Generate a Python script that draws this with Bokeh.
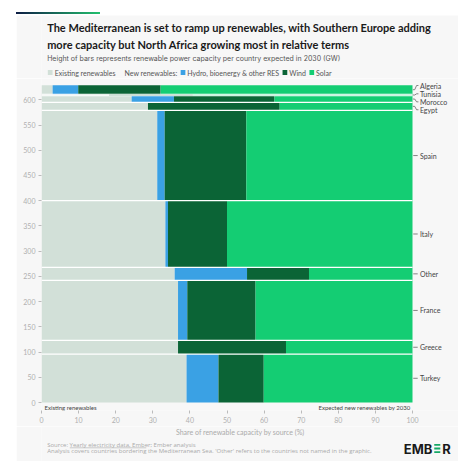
from bokeh.plotting import figure
from bokeh.models import Range1d, FixedTicker, ColumnDataSource, Div
from bokeh.layouts import column
from bokeh.embed import file_html
from bokeh.resources import INLINE
from bokeh.core.properties import value

# ---------------- data (bottom to top) ----------------
countries = ["Turkey", "Greece", "France", "Other", "Italy", "Spain", "Egypt", "Morocco", "Tunisia", "Algeria"]
capacity_gw = [96, 27, 119, 26, 132, 179, 16, 13, 3, 18]
existing_pct = [39.1, 36.8, 36.8, 35.9, 33.4, 31.2, 28.7, 24.3, 18.2, 3.0]
hydro_pct = [8.6, 0.0, 2.5, 19.5, 0.7, 2.0, 0.0, 11.4, 0.0, 6.9]
wind_pct = [12.2, 29.1, 18.4, 16.7, 15.9, 22.0, 35.5, 27.1, 22.6, 22.2]
solar_pct = [40.1, 34.1, 42.3, 27.9, 50.0, 44.8, 35.8, 37.2, 59.2, 67.9]
y_ticks = [0, 50, 100, 150, 200, 250, 300, 350, 400, 450, 500, 550, 600]
x_ticks = [0, 10, 20, 30, 40, 50, 60, 70, 80, 90, 100]
legend_labels = ["Existing renewables", "Hydro, bioenergy & other RES", "Wind", "Solar"]

# ---------------- style ----------------
C_EXIST = "#d2e0d8"
C_HYDRO = "#3aa1e4"
C_WIND = "#0b6436"
C_SOLAR = "#14cd73"
BG = "#f7f7f7"
FONT = "Lato"
label_dy_px = [0, 0, 0, 0, 0, 0, 3.4, 2.8, -1.2, -4.2]   # label nudges (screen px, + = down)
W = 442
X0, X1 = 16, 458   # page x-extent of the panel


def panel(top, bottom):
    """A full-bleed figure whose coordinates are page pixels (for header / footer text)."""
    f = figure(width=W, height=bottom - top, output_backend="svg", toolbar_location=None,
               x_range=Range1d(X0, X1), y_range=Range1d(bottom, top),
               x_axis_location=None, y_axis_location=None,
               min_border=0, min_border_left=0, min_border_right=0,
               min_border_top=0, min_border_bottom=0)
    f.background_fill_color = BG
    f.border_fill_color = BG
    f.outline_line_color = None
    f.grid.grid_line_color = None
    return f


def txt(f, x, y, s, size, color, bold=False, align="left", font=FONT):
    f.text(x=[x], y=[y], text=[s], text_font=value(font), text_font_size=size,
           text_color=color, text_font_style="bold" if bold else "normal",
           text_align=align, text_baseline="middle")


# ---------------- header ----------------
hd = panel(15, 78)
txt(hd, 22, 27, "The Mediterranean is set to ramp up renewables, with Southern Europe adding",
    "11px", "#1a1a1a", bold=True)
txt(hd, 22, 43.5, "more capacity but North Africa growing most in relative terms",
    "11px", "#1a1a1a", bold=True)
txt(hd, 22, 58, "Height of bars represents renewable power capacity per country expected in 2030 (GW)",
    "7px", "#555555", font="Inter")
sw_x = [22.7, 163.5, 271.5, 300.0]
sw_c = [C_EXIST, C_HYDRO, C_WIND, C_SOLAR]
hd.quad(left=sw_x, right=[v + 5 for v in sw_x], top=[69.5] * 4, bottom=[74.5] * 4,
        fill_color=sw_c, line_color=None)
for x, s in zip([30, 170.5, 278.5, 307], legend_labels):
    txt(hd, x, 72, s, "7px", "#555555")
txt(hd, 104, 72, "New renewables:", "7px", "#555555")

# ---------------- chart ----------------
PXX = 3.71     # px per percentage point
PXY = 0.5045   # px per GW
p = figure(width=W, height=348, output_backend="svg", toolbar_location=None,
           x_range=Range1d(0, 417 / PXX), y_range=Range1d(-8 / PXY, -8 / PXY + 332 / PXY),
           min_border_left=25, min_border_right=0, min_border_top=0, min_border_bottom=16)
p.background_fill_color = BG
p.border_fill_color = BG
p.outline_line_color = None
p.grid.grid_line_color = None

bottoms, tops = [], []
acc = 0
for c in capacity_gw:
    bottoms.append(acc)
    acc += c
    tops.append(acc)

segs = [existing_pct, hydro_pct, wind_pct, solar_pct]
left = [0.0] * len(countries)
for vals, col in zip(segs, sw_c):
    right = [l + v for l, v in zip(left, vals)]
    src = ColumnDataSource(dict(left=left, right=right, bottom=bottoms, top=tops))
    p.quad(left="left", right="right", bottom="bottom", top="top", source=src,
           fill_color=col, line_color=None)
    left = right

p.segment(x0=[0] * (len(tops) - 1), x1=[100] * (len(tops) - 1), y0=tops[:-1], y1=tops[:-1],
          line_color="white", line_width=1.2)

centers = [(b + t) / 2 for b, t in zip(bottoms, tops)]
label_y = [c - d / PXY for c, d in zip(centers, label_dy_px)]
xs, ys = [], []
for c, ly in zip(centers, label_y):
    if abs(c - ly) < 0.5:
        xs.append([100.2, 101.4]); ys.append([ly, ly])
    else:
        xs.append([100.1, 100.6, 101.1, 101.6]); ys.append([c, c, ly, ly])
p.multi_line(xs=xs, ys=ys, line_color="#666666", line_width=0.8)
p.text(x=[102.0] * len(countries), y=label_y, text=countries, text_baseline="middle",
       text_align="left", text_font=value(FONT), text_font_size="7px", text_color="#444444")

p.text(x=[3 / PXX], y=[-5 / PXY], text=["Existing renewables"], text_baseline="middle",
       text_font=value(FONT), text_font_size="6px", text_color="#444444")
p.text(x=[100 - 2 / PXX], y=[-5 / PXY], text=["Expected new renewables by 2030"], text_baseline="middle",
       text_align="right", text_font=value(FONT), text_font_size="6px", text_color="#444444")

for ax, tk in ((p.xaxis, x_ticks), (p.yaxis, y_ticks)):
    ax.ticker = FixedTicker(ticks=tk)
    ax.axis_line_color = None
    ax.major_tick_in = 0
    ax.major_tick_out = 3
    ax.major_tick_line_color = "#bbbbbb"
    ax.minor_tick_line_color = None
    ax.major_label_text_color = "#b0b0b0"
    ax.major_label_text_font = FONT
    ax.major_label_text_font_size = "7px"
    ax.major_label_standoff = 3

# ---------------- footer ----------------
ft = panel(426, 461)
txt(ft, 226.7, 431, "Share of renewable capacity by source (%)", "7px", "#aaaaaa", align="center")
txt(ft, 22, 444, "Source: Yearly electricity data, Ember; Ember analysis", "6px", "#aaaaaa", font="Open Sans")
ft.segment(x0=[46], x1=[127], y0=[447.3], y1=[447.3], line_color="#aaaaaa", line_width=0.6)
txt(ft, 22, 450.7, "Analysis covers countries bordering the Mediterranean Sea. 'Other' refers to the "
    "countries not named in the graphic.", "6px", "#aaaaaa", font="Open Sans")
txt(ft, 400, 448, "EMB", "13px", "#1a1a1a", bold=True, font="Inter")
txt(ft, 440.7, 448, "R", "13px", "#1a1a1a", bold=True, font="Inter")
ft.quad(left=[432.3] * 3, right=[438.7] * 3, top=[443.5, 447.1, 450.7], bottom=[445.3, 448.9, 452.5],
        fill_color="#15a866", line_color=None)

line = Div(text='<div style="width:84px;height:2px;margin-top:12px;'
                'background:linear-gradient(90deg,#0e1d45,#22c06e)"></div>',
           width=W, height=15, margin=(0, 0, 0, 0))
root = column(line, hd, p, ft, margin=(0, 0, 0, 16), spacing=0)

open("out.html", "w").write(file_html(root, INLINE))
